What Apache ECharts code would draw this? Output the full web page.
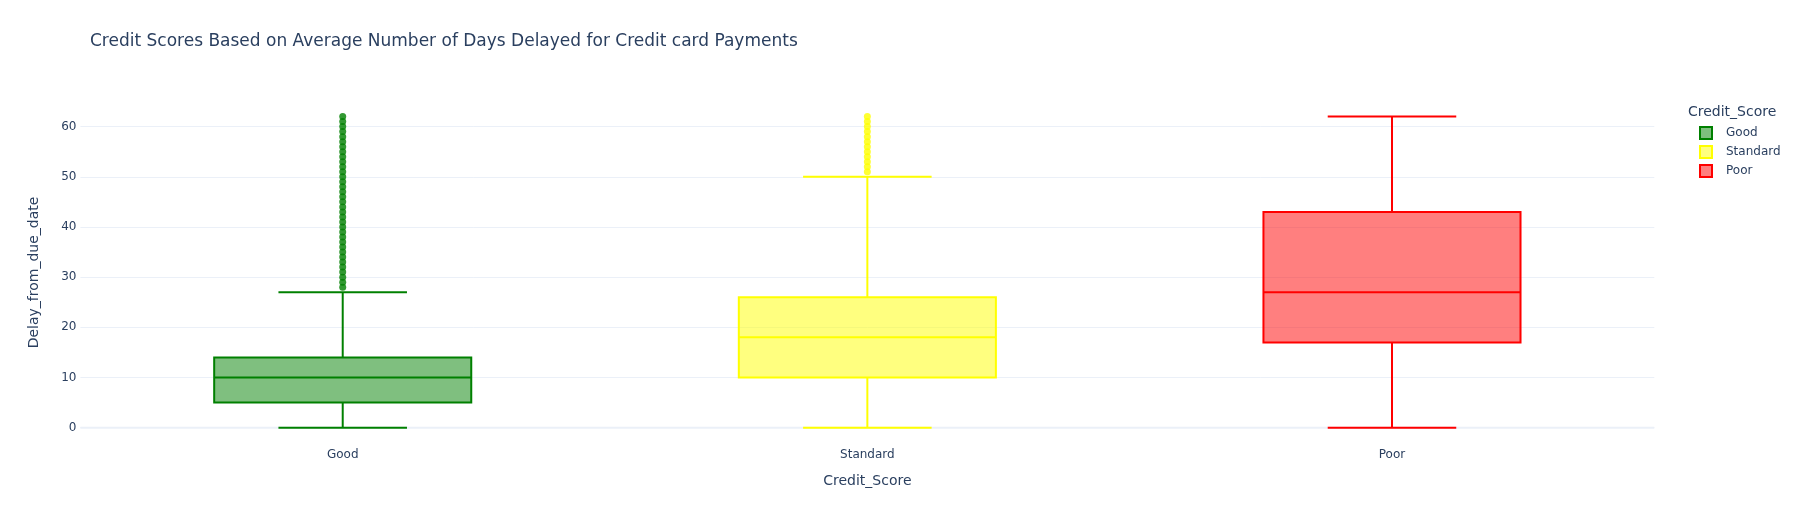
<!DOCTYPE html>
<html>
<head>
<meta charset="utf-8">
<title>Credit Scores</title>
<script src="https://cdn.jsdelivr.net/npm/echarts@6/dist/echarts.min.js"></script>
<style>
    html, body {margin: 0; padding: 0; background: #fff;}
    #main {width: 1798px; height: 525px;}
</style>
</head>
<body>
<div id="main"></div>
<script>
// categories and box stats [min, q1, median, q3, max]
var categories = ['Good', 'Standard', 'Poor'];
var goodBox = [0, 5, 10, 14, 27];
var standardBox = [0, 10, 18, 26, 50];
var poorBox = [0, 17, 27, 43, 62];
// outlier points
var goodOutliers = [28, 29, 30, 31, 32, 33, 34, 35, 36, 37, 38, 39, 40, 41, 42, 43, 44, 45,
    46, 47, 48, 49, 50, 51, 52, 53, 54, 55, 56, 57, 58, 59, 60, 61, 62];
var standardOutliers = [51, 52, 53, 54, 55, 56, 57, 58, 59, 60, 61, 62];
var poorOutliers = [];
var yTicks = [0, 10, 20, 30, 40, 50, 60];

var colors = {
    Good: {line: '#008000', fill: 'rgba(0,128,0,0.5)'},
    Standard: {line: '#ffff00', fill: 'rgba(255,255,0,0.5)'},
    Poor: {line: '#ff0000', fill: 'rgba(255,0,0,0.5)'}
};
var textColor = '#2a3f5f';
var gridColor = '#ebf0f8';
var font = '"DejaVu Sans", Verdana, Arial, sans-serif';

/**
 * 画箱体 (plotly style: caps half the box width)
 */
function makeRenderer(c) {
    return function (params, api) {
        var x = api.value(0);
        var lo = api.coord([x, api.value(1)]);
        var q1 = api.coord([x, api.value(2)]);
        var med = api.coord([x, api.value(3)]);
        var q3 = api.coord([x, api.value(4)]);
        var hi = api.coord([x, api.value(5)]);
        var band = api.size([1, 0])[0];
        var bw = band * 0.49;
        var cw = bw / 2;
        var cx = lo[0];
        var lineStyle = {stroke: c.line, lineWidth: 2, fill: null};
        return {
            type: 'group',
            children: [
                {type: 'rect', shape: {x: cx - bw / 2, y: q3[1], width: bw, height: q1[1] - q3[1]},
                    style: {fill: c.fill, stroke: c.line, lineWidth: 2}},
                {type: 'line', shape: {x1: cx - bw / 2, y1: med[1], x2: cx + bw / 2, y2: med[1]}, style: lineStyle},
                {type: 'line', shape: {x1: cx, y1: q3[1], x2: cx, y2: hi[1]}, style: lineStyle},
                {type: 'line', shape: {x1: cx, y1: q1[1], x2: cx, y2: lo[1]}, style: lineStyle},
                {type: 'line', shape: {x1: cx - cw / 2, y1: hi[1], x2: cx + cw / 2, y2: hi[1]}, style: lineStyle},
                {type: 'line', shape: {x1: cx - cw / 2, y1: lo[1], x2: cx + cw / 2, y2: lo[1]}, style: lineStyle}
            ]
        };
    };
}

// plotly 的零线稍粗一点
function renderZeroLine(params, api) {
    var p = api.coord([0, api.value(1)]);
    var cs = params.coordSys;
    return {
        type: 'line',
        shape: {x1: cs.x, y1: p[1], x2: cs.x + cs.width, y2: p[1]},
        style: {stroke: gridColor, lineWidth: 2}
    };
}

function boxSeries(name, idx, stats) {
    return {
        name: name,
        type: 'custom',
        renderItem: makeRenderer(colors[name]),
        itemStyle: {color: colors[name].fill},
        encode: {x: 0, y: [1, 2, 3, 4, 5]},
        data: [[idx].concat(stats)],
        z: 2
    };
}

function outlierSeries(name, idx, vals) {
    var pts = [];
    for (var i = 0; i < vals.length; i++) {
        pts.push([idx, vals[i]]);
    }
    return {
        name: name + ' outliers',
        type: 'scatter',
        symbol: 'circle',
        symbolSize: 7,
        itemStyle: {color: colors[name].line},
        data: pts,
        z: 3
    };
}

var chart = echarts.init(document.getElementById('main'));
chart.setOption({
    backgroundColor: '#fff',
    animation: false,
    title: [{
        text: 'Credit Scores Based on Average Number of Days Delayed for Credit card Payments',
        left: 90, top: 33, padding: 0,
        textStyle: {fontFamily: font, fontSize: 17, fontWeight: 'normal', color: textColor}
    }, {
        text: 'Credit_Score',
        left: 1688, top: 105, padding: 0,
        textStyle: {fontFamily: font, fontSize: 14, fontWeight: 'normal', color: textColor}
    }],
    legend: {
        orient: 'vertical',
        left: 1699, top: 126, padding: 0,
        icon: 'rect',
        itemWidth: 12, itemHeight: 12, itemGap: 5,
        textStyle: {fontFamily: font, fontSize: 12, color: textColor, padding: [0, 0, 0, 9]},
        data: categories.map(function (n) {
            return {name: n, itemStyle: {color: colors[n].fill, borderColor: colors[n].line, borderWidth: 2}};
        })
    },
    grid: {left: 80.4, right: 143.7, top: 100, bottom: 80},
    xAxis: {
        type: 'category',
        data: categories,
        name: 'Credit_Score',
        nameLocation: 'middle',
        nameGap: 29,
        nameTextStyle: {fontFamily: font, fontSize: 14, color: textColor},
        axisLine: {show: false},
        axisTick: {show: false},
        axisLabel: {fontFamily: font, fontSize: 12, color: textColor, margin: 4},
        splitLine: {show: false}
    },
    yAxis: {
        type: 'value',
        min: -3.45, max: 65.3,
        name: 'Delay_from_due_date',
        nameLocation: 'middle',
        nameGap: 39,
        nameTextStyle: {fontFamily: font, fontSize: 14, color: textColor},
        axisLine: {show: false},
        axisTick: {show: false, customValues: yTicks},
        axisLabel: {fontFamily: font, fontSize: 12, color: textColor, margin: 4, customValues: yTicks},
        splitLine: {show: true, lineStyle: {color: gridColor, width: 1}}
    },
    series: [
        {
            name: 'zeroline',
            type: 'custom',
            renderItem: renderZeroLine,
            encode: {x: 0, y: 1},
            data: [[0, 0]],
            silent: true,
            z: 1
        },
        boxSeries('Good', 0, goodBox),
        boxSeries('Standard', 1, standardBox),
        boxSeries('Poor', 2, poorBox),
        outlierSeries('Good', 0, goodOutliers),
        outlierSeries('Standard', 1, standardOutliers),
        outlierSeries('Poor', 2, poorOutliers)
    ]
});
</script>
</body>
</html>
